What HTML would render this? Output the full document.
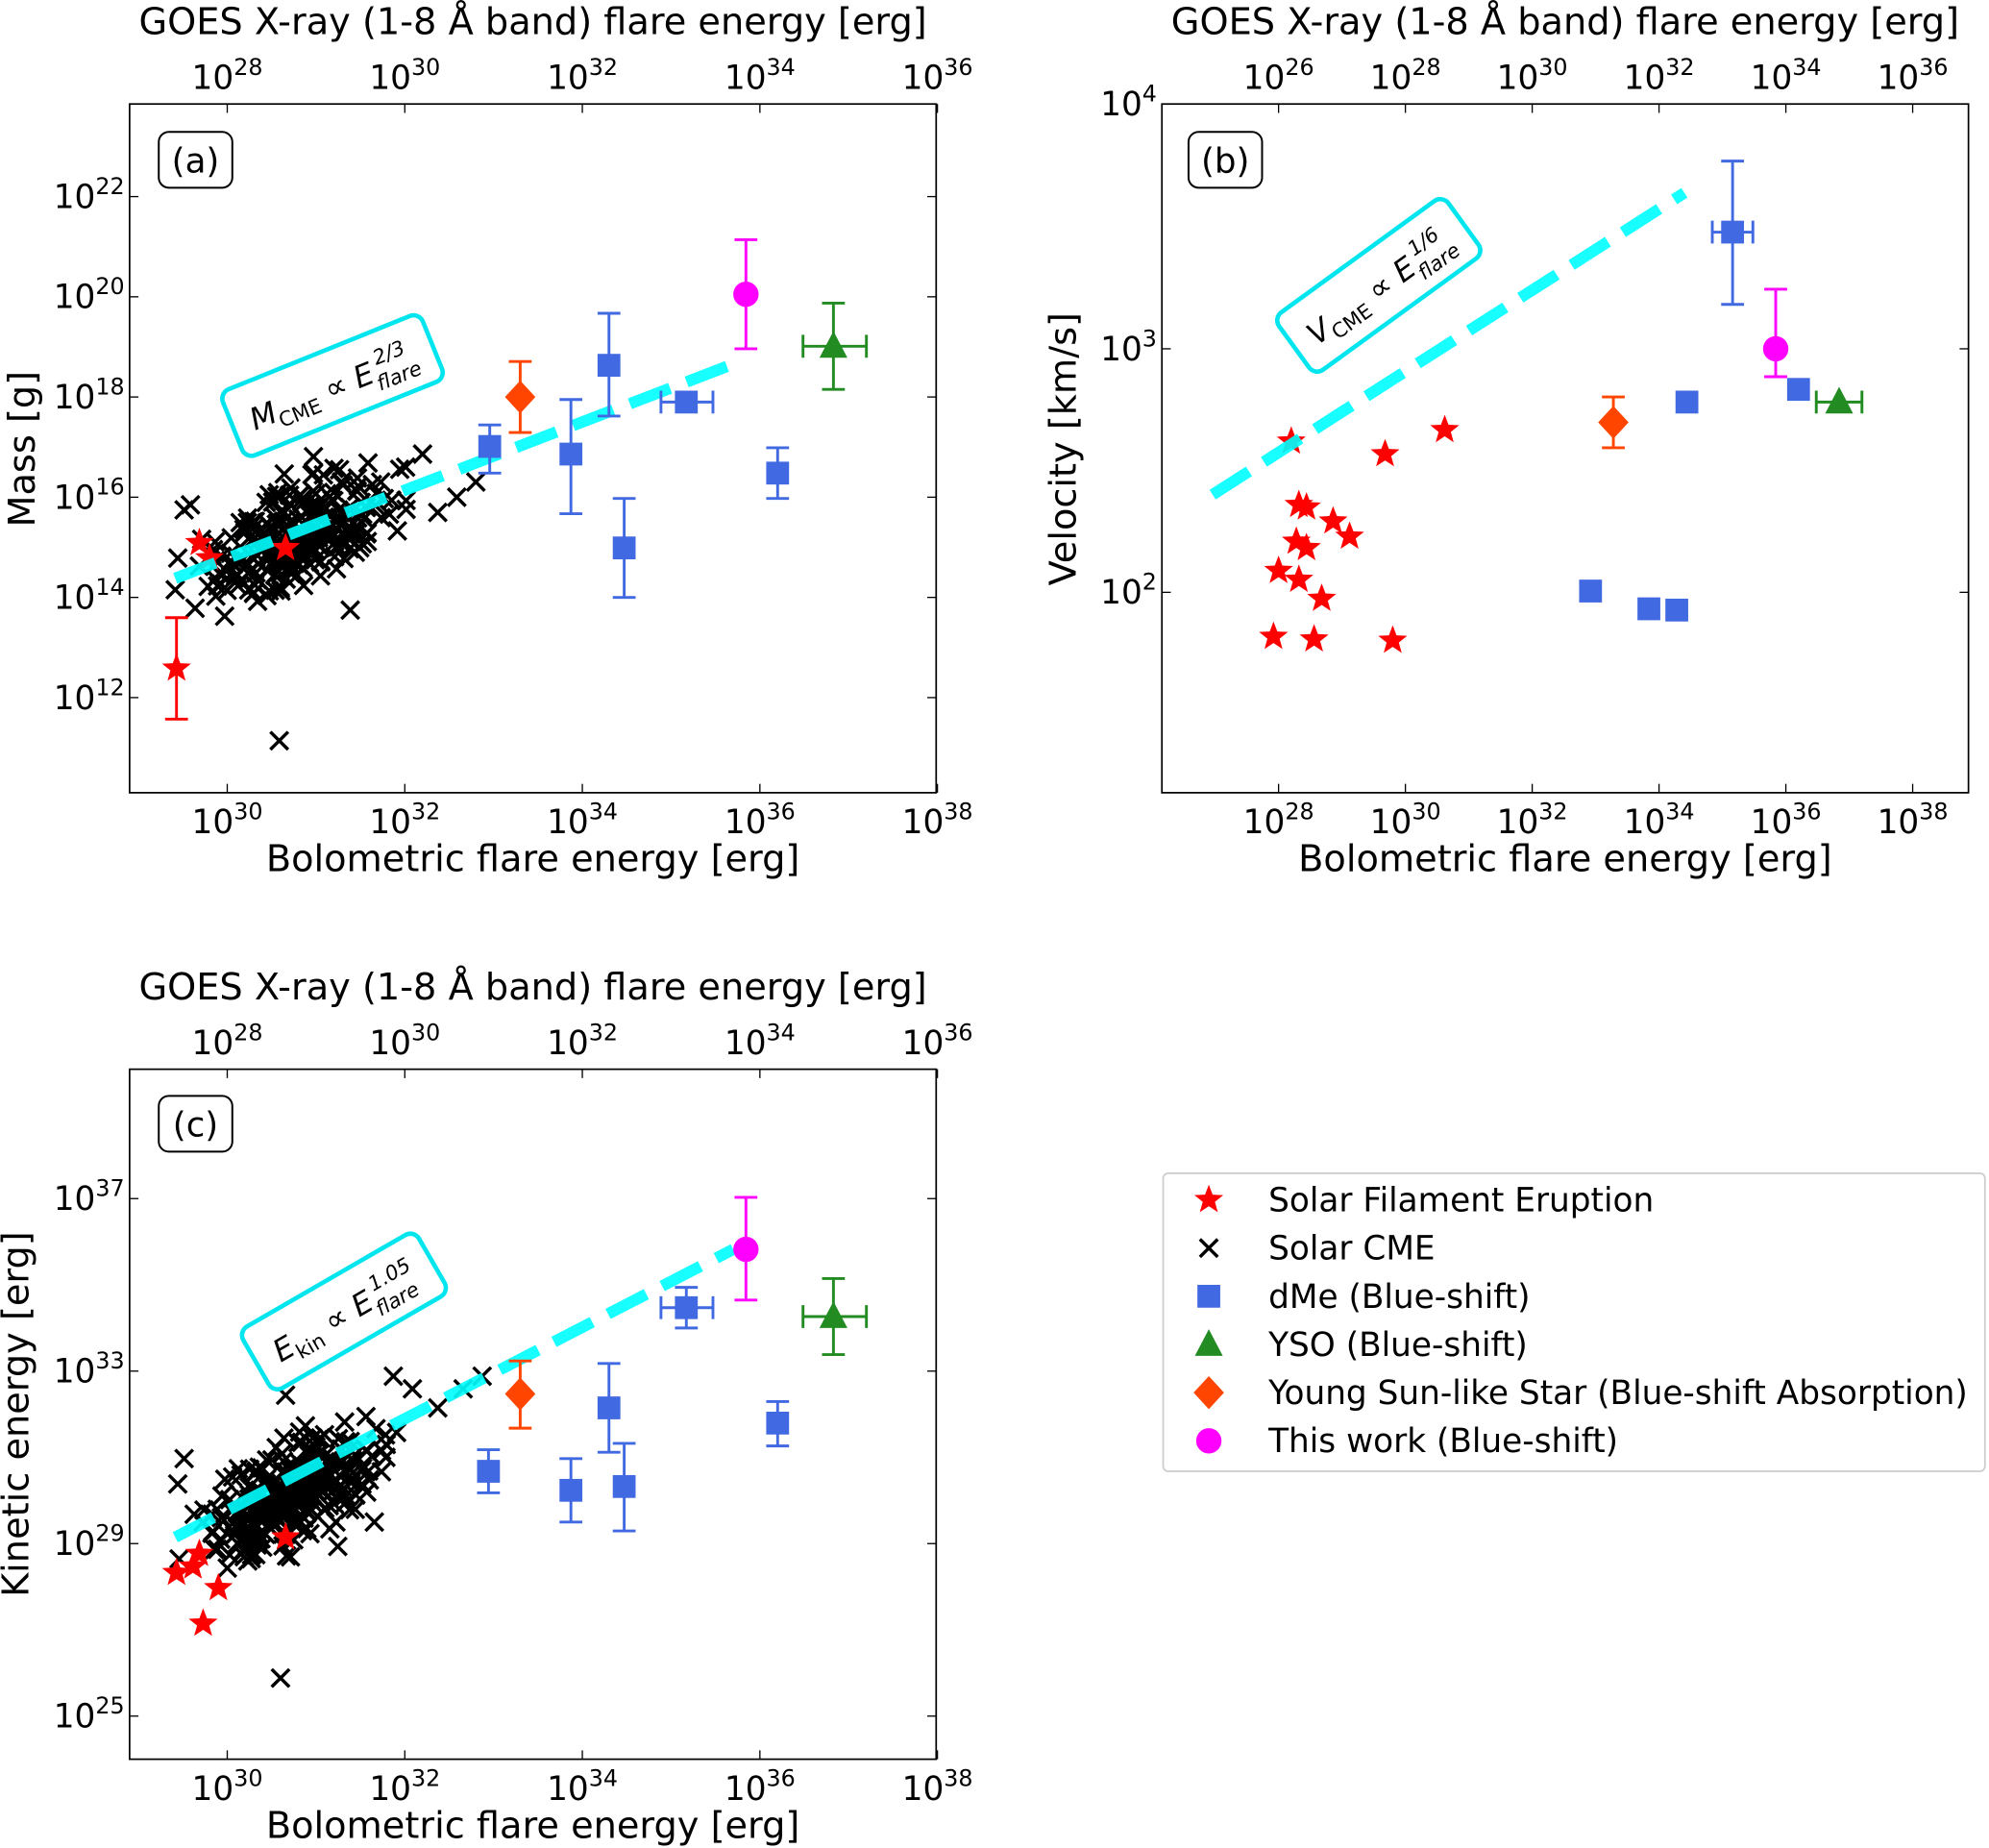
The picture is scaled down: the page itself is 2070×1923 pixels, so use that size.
<!DOCTYPE html>
<html><head><meta charset="utf-8"><style>
html,body{margin:0;padding:0;background:#fff}
svg{display:block}
text{font-family:"DejaVu Sans","Liberation Sans",sans-serif;fill:#000}
</style></head><body>
<svg id="s" width="2070" height="1923" viewBox="0 0 1568 1457" xmlns="http://www.w3.org/2000/svg">
<g id="g"></g>
</svg>
<script>
const g=document.getElementById('g');let h='';
function T(x,y,s,fs,anchor,extra){h+=`<text x="${x}" y="${y}" font-size="${fs||22}" text-anchor="${anchor||'middle'}" ${extra||''}>${s}</text>`;}
function pw(x,y,b,e){T(x,y,`${b}<tspan font-size="18" dy="-11">${e}</tspan>`,26);}
function box(x0,y0,x1,y1){h+=`<rect x="${x0}" y="${y0}" width="${x1-x0}" height="${y1-y0}" fill="none" stroke="#000" stroke-width="1.3"/>`;}
box(102,82,738,625);box(916,82,1552,625);box(102,843,738,1387);
function xt(xs,y0,y1,exps,topExps){
 xs.forEach((x,i)=>{h+=`<line x1="${x}" y1="${y1}" x2="${x}" y2="${y1-7}" stroke="#000"/><line x1="${x}" y1="${y0}" x2="${x}" y2="${y0+7}" stroke="#000"/>`;
 pw(x,y1+32,'10',exps[i]);pw(x,y0-12,'10',topExps[i]);});
}
function yt(ys,x0,x1,exps){ys.forEach((y,i)=>{h+=`<line x1="${x0}" y1="${y}" x2="${x0+7}" y2="${y}" stroke="#000"/><line x1="${x1}" y1="${y}" x2="${x1-7}" y2="${y}" stroke="#000"/>`;
 h+=`<text x="${x0-4}" y="${y+9}" font-size="26" text-anchor="end">10<tspan font-size="18" dy="-11">${exps[i]}</tspan></text>`;});}
xt([179,319,459,599,739],82,625,[30,32,34,36,38],[28,30,32,34,36]);
xt([1008,1108,1208,1308,1408,1508],82,625,[28,30,32,34,36,38],[26,28,30,32,34,36]);
xt([179,319,459,599,739],843,1387,[30,32,34,36,38],[28,30,32,34,36]);
yt([155,234,313,392,471,550],102,738,[22,20,18,16,14,12]);
yt([82,275,467],916,1552,[4,3,2]);
yt([945,1081,1217,1353],102,738,[37,33,29,25]);
const AF=29;
T(420,27,'GOES X-ray (1-8 Å band) flare energy [erg]',AF);T(1234,27,'GOES X-ray (1-8 Å band) flare energy [erg]',AF);T(420,788,'GOES X-ray (1-8 Å band) flare energy [erg]',AF);
T(420,687,'Bolometric flare energy [erg]',AF);T(1234,687,'Bolometric flare energy [erg]',AF);T(420,1449,'Bolometric flare energy [erg]',AF);
T(0,0,'Mass [g]',AF,'middle','transform="translate(27,354) rotate(-90)"');
T(0,0,'Velocity [km/s]',AF,'middle','transform="translate(848,354) rotate(-90)"');
T(0,0,'Kinetic energy [erg]',AF,'middle','transform="translate(22,1115) rotate(-90)"');
function tag(x,y,s){h+=`<rect x="${x}" y="${y}" width="58" height="44" rx="8" fill="#fff" stroke="#000" stroke-width="1.5"/>`;T(x+29,y+32,s,27);}
tag(125,104,'(a)');tag(937,104,'(b)');tag(125,864,'(c)');
let sd=7;function R(){sd=(sd*16807)%2147483647;return sd/2147483647;}
function N(){return (R()+R()+R()+R()-2)*0.9;}
function X(x,y){h+=`<path d="M${x-7} ${y-7}L${x+7} ${y+7}M${x-7} ${y+7}L${x+7} ${y-7}" stroke="#000" stroke-width="2.6"/>`;}
function cloud(cx0,cy0,slope,n,sx,sy,xmin,xmax){for(let i=0;i<n;i++){let x=cx0+N()*sx;x=Math.max(xmin,Math.min(xmax,x));let y=cy0+(x-cx0)*slope+N()*sy;X(x,y);}}
cloud(235,422,-0.38,280,60,34,138,320);
[[300,380],[315,370],[333,358],[345,404],[360,392],[375,380],[247,360],[290,365],[276,481],[220,584],[145,402],[150,398],[138,465],[170,470],[140,440]].forEach(p=>X(...p));
cloud(230,1178,-0.5,290,62,40,138,320);
[[310,1085],[325,1095],[345,1110],[365,1095],[380,1085],[295,1200],[280,1190],[221,1323],[225,1100],[145,1150],[140,1170],[160,1200]].forEach(p=>X(...p));
function eb(x,y1,y2,c){h+=`<path d="M${x} ${y1}V${y2}M${x-9} ${y1}H${x+9}M${x-9} ${y2}H${x+9}" stroke="${c}" stroke-width="2.2" fill="none"/>`;}
function ex(y,x1,x2,c){h+=`<path d="M${x1} ${y}H${x2}M${x1} ${y-9}V${y+9}M${x2} ${y-9}V${y+9}" stroke="${c}" stroke-width="2.2" fill="none"/>`;}
function star(x,y,r){r=r||12;let p='';for(let i=0;i<10;i++){let a=-Math.PI/2+i*Math.PI/5,rr=i%2?r*0.42:r;p+=(i?'L':'M')+(x+rr*Math.cos(a)).toFixed(1)+' '+(y+rr*Math.sin(a)).toFixed(1);}h+=`<path d="${p}Z" fill="#f00"/>`;}
function sq(x,y){h+=`<rect x="${x-9}" y="${y-9}" width="18" height="18" fill="#4169e1"/>`;}
function dia(x,y){h+=`<path d="M${x} ${y-13}L${x+12} ${y}L${x} ${y+13}L${x-12} ${y}Z" fill="#ff4500"/>`;}
function cir(x,y){h+=`<circle cx="${x}" cy="${y}" r="10" fill="#f0f"/>`;}
function tri(x,y){h+=`<path d="M${x} ${y-12}L${x+11} ${y+9}L${x-11} ${y+9}Z" fill="#228b22"/>`;}
const B='#4169e1';
function dash(x1,y1,x2,y2){h+=`<line x1="${x1}" y1="${y1}" x2="${x2}" y2="${y2}" stroke="#00ffff" stroke-width="9" stroke-dasharray="34,14" opacity="0.9"/>`;}
eb(139,487,567,'#f00');star(139,527);star(157,428);star(225,432);star(165,440);
dash(138,456,578,287);
eb(386,335,373,B);sq(386,352);eb(450,315,405,B);sq(450,358);eb(480,247,328,B);sq(480,288);eb(492,393,471,B);sq(492,432);ex(317,521,562,B);sq(541,317);eb(613,353,393,B);sq(613,373);
eb(410,285,341,'#ff4500');dia(410,313);eb(588,189,275,'#f0f');cir(588,232);eb(657,239,307,'#228b22');ex(273,633,683,'#228b22');tri(657,273);
[[1018,348],[1092,358],[1139,339],[1024,398],[1030,400],[1051,411],[1064,423],[1022,427],[1030,432],[1008,450],[1024,457],[1042,472],[1004,502],[1036,504],[1098,505]].forEach(p=>star(...p));
dash(956,390,1328,152);
eb(1366,127,240,B);ex(183,1350,1382,B);sq(1366,183);sq(1330,317);sq(1418,307);sq(1254,466);sq(1300,480);sq(1322,481);
eb(1272,313,353,'#ff4500');dia(1272,333);eb(1400,228,297,'#f0f');cir(1400,275);ex(317,1432,1468,'#228b22');tri(1450,317);
dash(138,1212,578,985);
[[139,1240],[157,1225],[160,1280],[172,1252],[225,1212],[152,1235]].forEach(p=>star(...p));
eb(385,1143,1177,B);sq(385,1160);eb(450,1150,1200,B);sq(450,1175);eb(480,1075,1145,B);sq(480,1110);eb(492,1138,1207,B);sq(492,1172);eb(541,1015,1047,B);ex(1031,521,562,B);sq(541,1031);eb(613,1105,1140,B);sq(613,1122);
eb(410,1073,1126,'#ff4500');dia(410,1099);eb(588,944,1025,'#f0f');cir(588,985);eb(657,1008,1068,'#228b22');ex(1038,633,683,'#228b22');tri(657,1038);
function fbox(cx,cy,ang,w,main,sub,sup2){h+=`<g transform="translate(${cx},${cy}) rotate(${ang})"><rect x="${-w/2}" y="-28" width="${w}" height="56" rx="8" fill="#fff" stroke="#00e5ee" stroke-width="3.5"/>
<text x="0" y="10" font-size="24" text-anchor="middle" font-style="italic">${main}<tspan font-size="16" dy="6" font-style="normal">${sub}</tspan><tspan dy="-6"> ∝ E</tspan><tspan font-size="16" dy="8">flare</tspan><tspan font-size="16" dx="-32" dy="-20">${sup2}</tspan></text></g>`;}
fbox(262,304,-22,170,'M','CME','2/3');
fbox(1087,225,-36,165,'V','CME','1/6');
fbox(271,1034,-30,160,'E','kin','1.05');
h+=`<rect x="917" y="925" width="648" height="235" rx="4" fill="#fff" stroke="#ccc" stroke-width="1.3"/>`;
const L=['Solar Filament Eruption','Solar CME','dMe (Blue-shift)','YSO (Blue-shift)','Young Sun-like Star (Blue-shift Absorption)','This work (Blue-shift)'];
L.forEach((s,i)=>{let y=946+i*38;T(1000,y+9,s,26,'start');});
star(953,946);X(953,984);sq(953,1022);tri(953,1060);dia(953,1098);cir(953,1136);
g.innerHTML=h;
</script>
</body></html>
